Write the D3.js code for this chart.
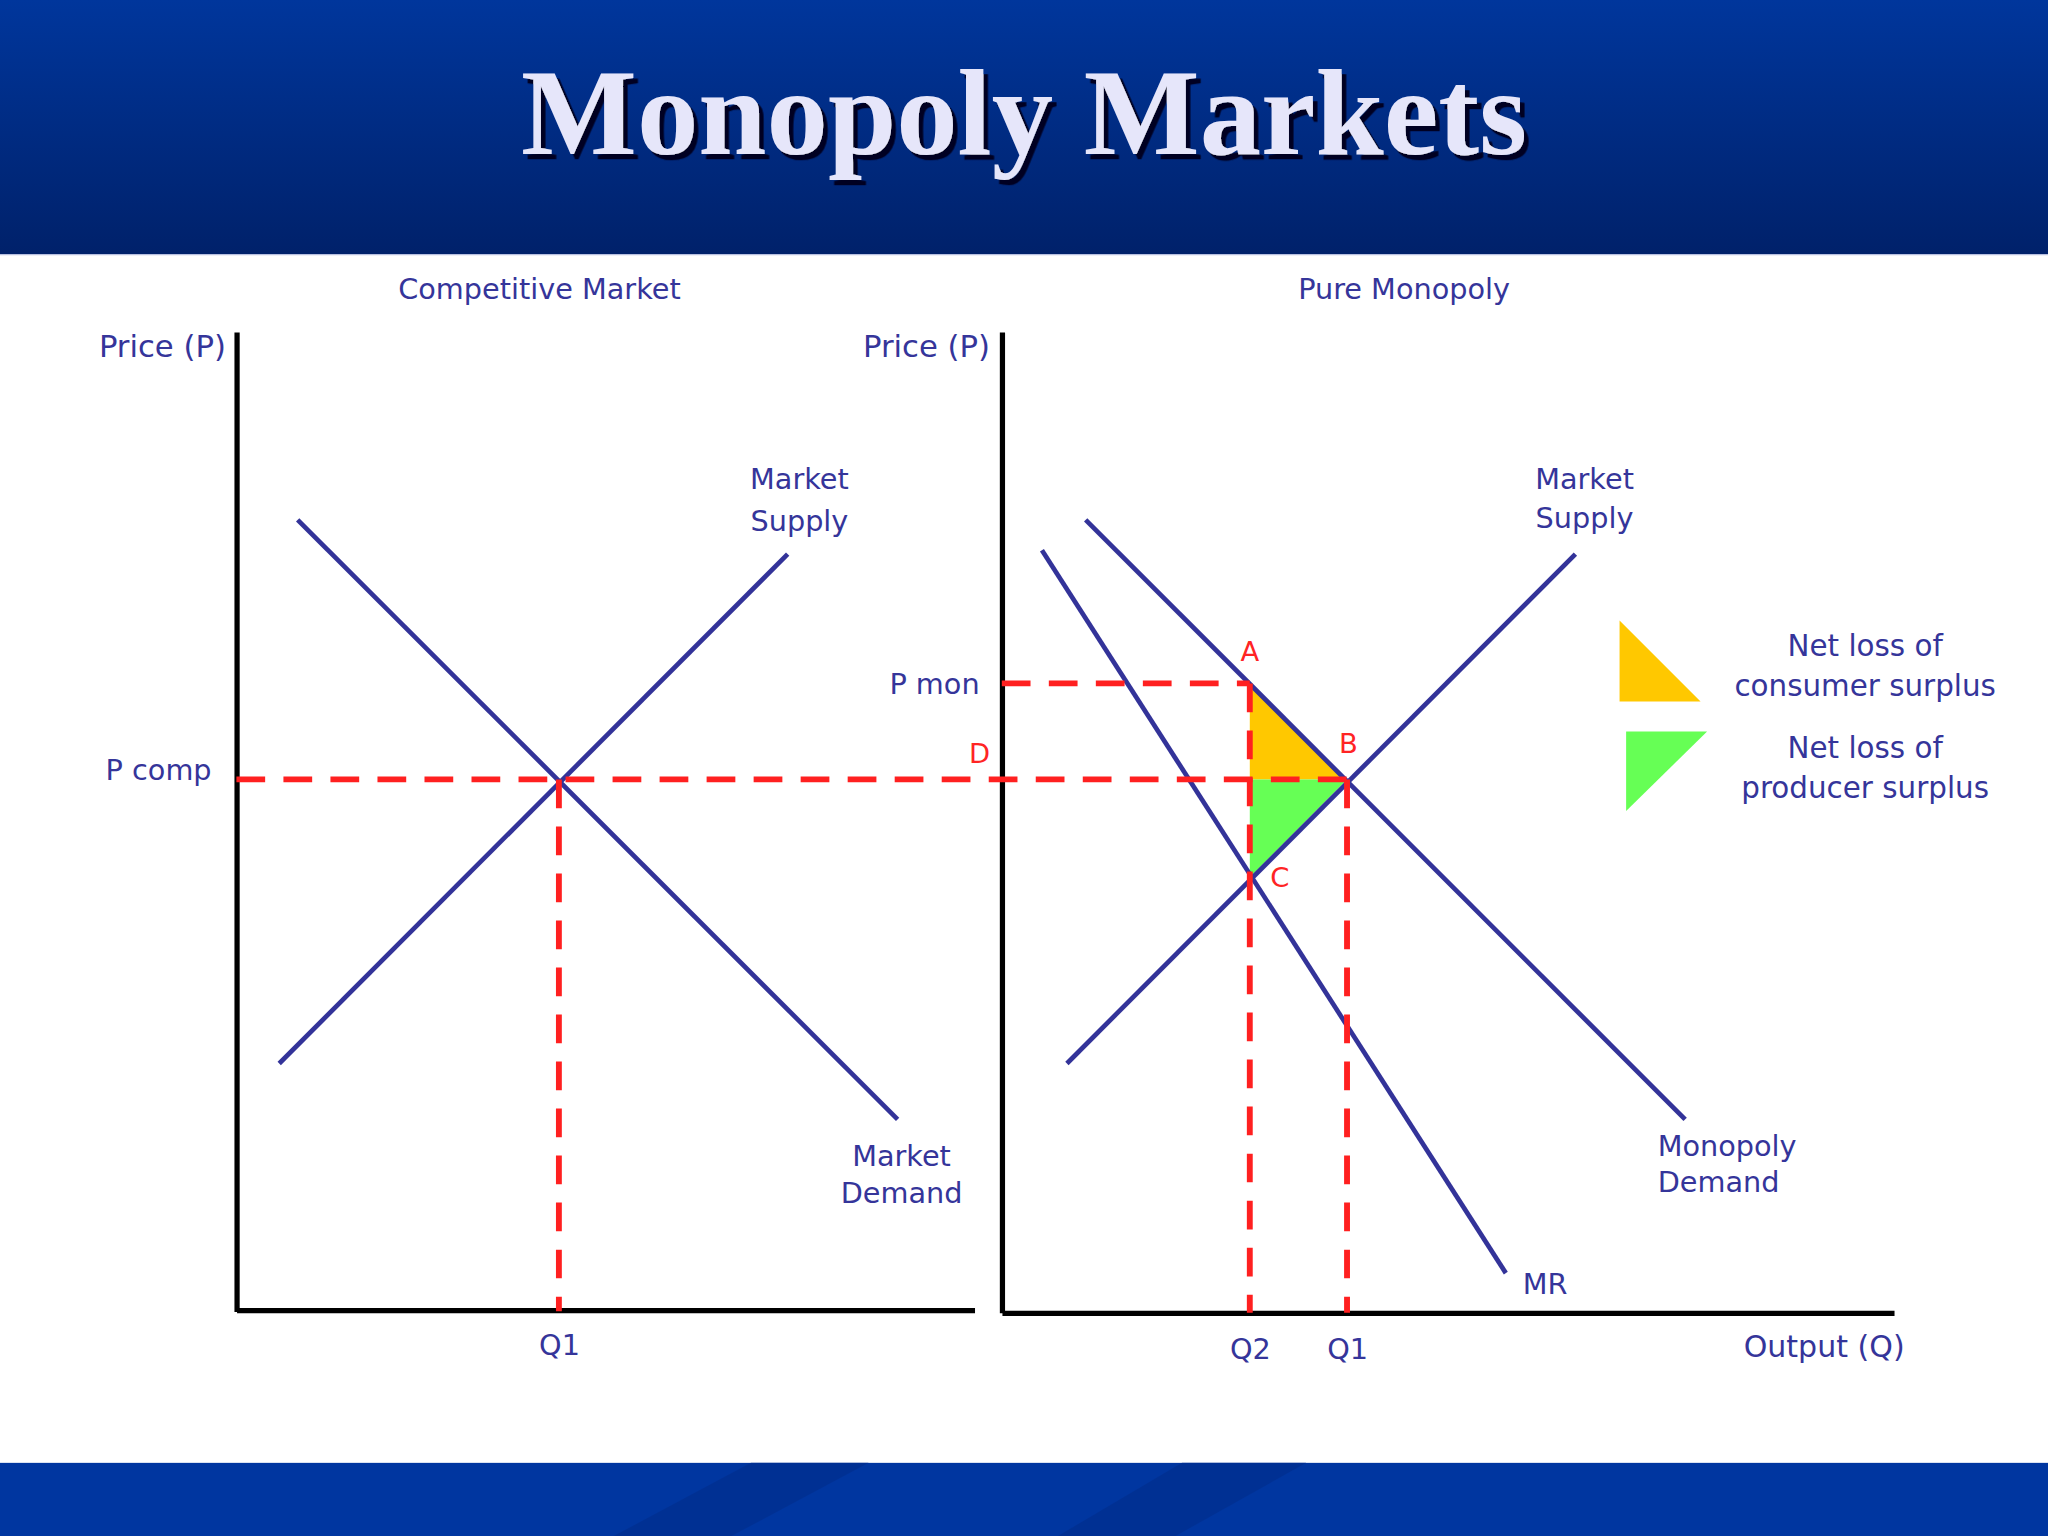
<!DOCTYPE html>
<html>
<head>
<meta charset="utf-8">
<title>Monopoly Markets</title>
<script src="https://cdn.jsdelivr.net/npm/d3@7"></script>
<style>
  html, body { margin: 0; padding: 0; background: #fff; }
  svg { display: block; }
  .lbl { font-family: "DejaVu Sans", sans-serif; font-size: 22px; fill: #35359a; }
  .pt { font-family: "DejaVu Sans", sans-serif; font-size: 21px; fill: #ff2424; }
</style>
</head>
<body>
<svg id="chart"></svg>
<script>
// price and quantity, both charts in 0..100 units
const priceDomain = [0, 100]
const qtyDomain = [0, 100]

// competitive market
const compDemand = [[8.3, 80.8], [89.6, 19.6]]
const compSupply = [[5.8, 25.3], [74.7, 77.3]]
const compQ1 = 43.7
const pComp = 54.3

// pure monopoly
const monoDemand = [[9.4, 80.8], [76.6, 19.6]]
const monoSupply = [[7.3, 25.3], [64.3, 77.3]]
const monoMR = [[4.5, 77.7], [56.5, 3.9]]
const monoQ2 = 27.8
const monoQ1 = 38.7
const pMon = 64.1
const pC = 44.3

const titles = ['Competitive Market', 'Pure Monopoly']
const legendLabels = [['Net loss of', 'consumer surplus'], ['Net loss of', 'producer surplus']]
const legendColors = ['#ffc800', '#66ff55']

const W = 1568, H = 1176
const svg = d3.select('#chart')
	.attr('width', 2048).attr('height', 1536)
	.attr('viewBox', `0 0 ${W} ${H}`)

// header / footer bands
const defs = svg.append('defs')
const grad = defs.append('linearGradient').attr('id', 'hdr').attr('x1', 0).attr('y1', 0).attr('x2', 0).attr('y2', 1)
grad.append('stop').attr('offset', '0%').attr('stop-color', '#00369c')
grad.append('stop').attr('offset', '100%').attr('stop-color', '#00216a')
defs.append('filter').attr('id', 'shadow').attr('x', '-5%').attr('y', '-20%').attr('width', '115%').attr('height', '150%')
	.append('feDropShadow').attr('dx', 3.5).attr('dy', 4).attr('stdDeviation', 0.6)
	.attr('flood-color', '#000022').attr('flood-opacity', 1)

svg.append('rect').attr('width', W).attr('height', 195).attr('fill', 'url(#hdr)')
svg.append('line').attr('x1', 0).attr('x2', W).attr('y1', 195).attr('y2', 195)
	.attr('stroke', '#b8c0e0').attr('stroke-width', 1)

svg.append('rect').attr('y', 1120).attr('width', W).attr('height', H - 1120).attr('fill', '#0036a0')
const stripes = [[[575, 1120], [665, 1120], [560, 1176], [470, 1176]],
	[[905, 1120], [1000, 1120], [900, 1176], [810, 1176]]]
svg.selectAll('.stripe').data(stripes).join('polygon')
	.attr('points', d => d.join(' '))
	.attr('fill', '#002f90').attr('opacity', 0.8)

svg.append('text').attr('x', 784).attr('y', 118)
	.attr('text-anchor', 'middle')
	.style('font-family', '"Liberation Serif", "Times New Roman", serif')
	.style('font-weight', 'bold').style('font-size', '94px')
	.attr('fill', '#e6e6fa').attr('filter', 'url(#shadow)')
	.text('Monopoly Markets')

// scales
const yP = d3.scaleLinear().domain(priceDomain).range([1004, 254])
const xL = d3.scaleLinear().domain(qtyDomain).range([181, 746])
const xR = d3.scaleLinear().domain(qtyDomain).range([767, 1450])
const yPR = d3.scaleLinear().domain(priceDomain).range([1005, 254])

// surplus triangles
const area = (x, pts) => d3.line().x(d => x(d[0])).y(d => yP(d[1]))(pts) + 'Z'
svg.append('path').attr('fill', legendColors[0])
	.attr('d', area(xR, [[monoQ2, pMon], [monoQ2, pComp], [monoQ1, pComp]]))
svg.append('path').attr('fill', legendColors[1])
	.attr('d', area(xR, [[monoQ2, pComp], [monoQ1, pComp], [monoQ2, pC]]))

// curves
const curves = [
	{ x: xL, pts: compDemand }, { x: xL, pts: compSupply },
	{ x: xR, pts: monoDemand }, { x: xR, pts: monoSupply }, { x: xR, pts: monoMR }
]
svg.selectAll('.curve').data(curves).join('path')
	.attr('class', 'curve')
	.attr('fill', 'none').attr('stroke', '#333399').attr('stroke-width', 3.6)
	.attr('d', c => d3.line().x(d => c.x(d[0])).y(d => yP(d[1]))(c.pts))

// axes
function styleAxis(g) {
	g.select('.domain').attr('stroke', '#000').attr('stroke-width', 4)
	g.selectAll('.tick text').attr('class', 'lbl').attr('fill', null)
		.style('font-family', '"DejaVu Sans", sans-serif').style('font-size', '22px')
}
svg.append('g').attr('transform', `translate(0,${yP(0) - 1})`)
	.call(d3.axisBottom(xL).tickValues([compQ1]).tickFormat(() => 'Q1').tickSize(0).tickPadding(19))
	.call(styleAxis)
svg.append('g').attr('transform', `translate(${xL(0)},0)`)
	.call(d3.axisLeft(yP).tickValues([pComp]).tickFormat(() => 'P comp').tickSize(0).tickPadding(19))
	.call(styleAxis)
	.call(g => g.selectAll('.tick text').attr('dy', '0.0em'))
svg.append('g').attr('transform', `translate(0,${yPR(0)})`)
	.call(d3.axisBottom(xR).tickValues([monoQ2, monoQ1]).tickFormat((d, i) => ['Q2', 'Q1'][i]).tickSize(0).tickPadding(20))
	.call(styleAxis)
svg.append('g').attr('transform', `translate(${xR(0)},0)`)
	.call(d3.axisLeft(yPR).tickValues([pMon]).tickFormat(() => 'P mon').tickSize(0).tickPadding(17))
	.call(styleAxis)

// dashed guides
const guides = [
	[xL(0), yP(pComp), xR(monoQ1), yP(pComp)],
	[xL(compQ1), yP(pComp), xL(compQ1), yP(0)],
	[xR(0), yP(pMon), xR(monoQ2), yP(pMon)],
	[xR(monoQ2), yP(pMon), xR(monoQ2), yPR(0)],
	[xR(monoQ1), yP(pComp), xR(monoQ1), yPR(0)]
]
svg.selectAll('.guide').data(guides).join('line')
	.attr('x1', d => d[0]).attr('y1', d => d[1]).attr('x2', d => d[2]).attr('y2', d => d[3])
	.attr('stroke', '#ff2020').attr('stroke-width', 4.5).attr('stroke-dasharray', '22,14')

// point letters
const letters = [
	['A', xR(monoQ2), yP(pMon) - 25],
	['B', xR(monoQ1) + 1, yP(pComp) - 28],
	['C', xR(monoQ2) + 23, yP(pC)],
	['D', xR(0) - 17, yP(pComp) - 20]
]
svg.selectAll('.pt').data(letters).join('text')
	.attr('class', 'pt').attr('text-anchor', 'middle').attr('dy', '0.36em')
	.attr('x', d => d[1]).attr('y', d => d[2]).text(d => d[0])

// text labels
const label = (x, y, lines, anchor = 'middle', gap = 31, size = 22) => {
	const t = svg.append('text').attr('class', 'lbl').attr('text-anchor', anchor).style('font-size', size + 'px')
	lines.forEach((s, i) => t.append('tspan').attr('x', x).attr('y', y + i * gap).text(s))
}
label(413, 229, [titles[0]])
label(1075, 229, [titles[1]])
label(173, 273, ['Price (P)'], 'end', 31, 23.5)
label(758, 273, ['Price (P)'], 'end', 31, 23.5)
label(1335, 1039, ['Output (Q)'], 'start', 31, 23)

const endOf = (x, pts) => [x(pts[1][0]), yP(pts[1][1])]
let e = endOf(xL, compSupply)
label(e[0] + 9, e[1] - 50, ['Market', 'Supply'], 'middle', 32)
e = endOf(xL, compDemand)
label(e[0] + 3, e[1] + 36, ['Market', 'Demand'], 'middle', 28)
e = endOf(xR, monoSupply)
label(e[0] + 7, e[1] - 50, ['Market', 'Supply'], 'middle', 30)
e = endOf(xR, monoDemand)
label(e[0] - 21, e[1] + 28, ['Monopoly', 'Demand'], 'start', 28)
e = endOf(xR, monoMR)
label(e[0] + 13, e[1] + 16, ['MR'], 'start')

// legend
const legendTris = [
	[[1240, 475], [1240, 537], [1302, 537]],
	[[1245, 560], [1307, 560], [1245, 621]]
]
svg.selectAll('.legtri').data(legendTris).join('polygon')
	.attr('points', d => d.join(' '))
	.attr('fill', (d, i) => legendColors[i])
legendLabels.forEach((lines, i) => label(1428, 502 + i * 78, lines, 'middle', 31, 22.5))
</script>
</body>
</html>
